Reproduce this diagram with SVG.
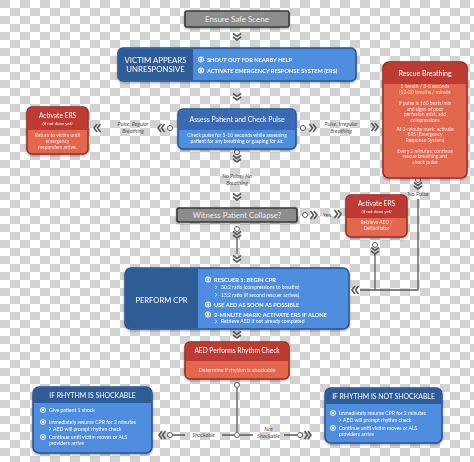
<svg xmlns="http://www.w3.org/2000/svg" width="474" height="462" viewBox="0 0 474 462">
<defs>
<pattern id="chk" width="20" height="16" patternUnits="userSpaceOnUse">
<rect width="20" height="16" fill="#ffffff"/>
<rect width="10" height="8" fill="#d3d3d3"/>
<rect x="10" y="8" width="10" height="8" fill="#d3d3d3"/>
</pattern>
<path id="chev" d="M-4,-3.5 L0,-0.5 L4,-3.5 M-4,0 L0,3 L4,0" fill="none" stroke="#5a5a5a" stroke-width="1.6"/>
<filter id="sh" x="-10%" y="-10%" width="120%" height="130%">
<feDropShadow dx="0" dy="1.2" stdDeviation="1" flood-color="#000" flood-opacity="0.35"/>
</filter>
</defs>
<style>
text{font-family:Lato,"Open Sans","Liberation Sans",sans-serif}
.w{fill:#ffffff}
.g{fill:#eeeeee}
.c{text-anchor:middle}
.b{font-weight:bold}
.lbl{fill:#505050;font-style:italic;font-size:5.4px;text-anchor:middle}
.dot{fill:#ffffff;stroke:#5a5a5a;stroke-width:1}
.ln{stroke:#5a5a5a;stroke-width:1.3;fill:none}
.bf{fill:#4f8ddf}
.bd{fill:#2f5b97}
.bh{fill:#3a6bb4}
.bs{stroke:#2a5290;stroke-width:1.5}
.rh{fill:#bd3a31}
.rb{fill:#e3664f}
.rs{stroke:#9a2a23;stroke-width:1.5}
.rt{fill:#fde2da;font-size:4.9px;text-anchor:middle}
.gy{fill:#8c8c8c;stroke:#383838;stroke-width:1.6}
.sub{fill:none;stroke:#d9e7fb;stroke-width:0.8}
.bt{fill:#ffffff;font-size:5.1px}
.cap{fill:#ffffff;font-weight:bold;font-size:5.7px}
</style>
<rect width="474" height="462" fill="url(#chk)"/>

<g id="connectors">
<use href="#chev" transform="translate(237,37)"/>
<use href="#chev" transform="translate(237,97)"/>
<circle class="dot" cx="237" cy="152" r="2.5"/>
<use href="#chev" transform="translate(237,159)"/>
<text class="lbl" x="237" y="178">No Pulse/ No</text>
<text class="lbl" x="237" y="184.5">Breathing</text>
<use href="#chev" transform="translate(237,197)"/>
<circle class="dot" cx="170" cy="128" r="2.5"/>
<use href="#chev" transform="translate(161,128) rotate(90)"/>
<text class="lbl" x="133" y="126">Pulse, Regular</text>
<text class="lbl" x="133" y="132.5">Breathing</text>
<use href="#chev" transform="translate(97,128) rotate(90)"/>
<circle class="dot" cx="303" cy="128" r="2.5"/>
<use href="#chev" transform="translate(313,128) rotate(-90)"/>
<text class="lbl" x="341" y="126">Pulse, Irregular</text>
<text class="lbl" x="341" y="132.5">Breathing</text>
<use href="#chev" transform="translate(375,127) rotate(-90)"/>
<circle class="dot" cx="418" cy="180" r="2.5"/>
<use href="#chev" transform="translate(418,186)"/>
<text class="lbl" x="418" y="195.5" style="font-style:normal">No Pulse</text>
<path class="ln" d="M418,199 V290 H360 M375,254 V290"/>
<use href="#chev" transform="translate(355,290) rotate(90)"/>
<circle class="dot" cx="305" cy="215" r="2.5"/>
<use href="#chev" transform="translate(314,215) rotate(-90)"/>
<text class="lbl" x="327" y="217" style="font-style:normal">Yes</text>
<use href="#chev" transform="translate(338,214) rotate(-90)"/>
<circle class="dot" cx="375" cy="245" r="2.5"/>
<use href="#chev" transform="translate(375,251)"/>
<circle class="dot" cx="237" cy="229" r="2.5"/>
<use href="#chev" transform="translate(237,235)"/>
<path class="ln" d="M237,239 V254"/>
<use href="#chev" transform="translate(237,259)"/>
<use href="#chev" transform="translate(237,335)"/>
<path class="ln" d="M237,388 V432 M173,435 H185 M222,435 H234 M240,435 H253 M284,435 H297"/>
<circle class="dot" cx="237" cy="385" r="2.5"/>
<circle class="dot" cx="237" cy="435" r="2.5"/>
<circle class="dot" cx="170" cy="435" r="2.5"/>
<use href="#chev" transform="translate(162,435) rotate(90)"/>
<text class="lbl" x="203.5" y="437">Shockable</text>
<text class="lbl" x="268.5" y="431">Not</text>
<text class="lbl" x="268.5" y="438">Shockable</text>
<circle class="dot" cx="300" cy="435" r="2.5"/>
<use href="#chev" transform="translate(308,435) rotate(-90)"/>
</g>

<g id="ensure">
<rect class="gy" x="185" y="11" width="104" height="16" rx="2" filter="url(#sh)"/>
<text class="g c" x="237" y="22" font-size="8">Ensure Safe Scene</text>
</g>

<g id="victim" filter="url(#sh)">
<rect class="bf bs" x="118" y="48" width="238" height="33" rx="5"/>
<path class="bd" d="M123,48.8 H193 V80.2 H123 Q118.8,80.2 118.8,76 V53 Q118.8,48.8 123,48.8 Z"/>
<text class="w c" x="155.5" y="63" font-size="7.8">VICTIM APPEARS</text>
<text class="w c" x="155.5" y="72" font-size="7.8">UNRESPONSIVE</text>
<circle cx="201" cy="59.5" r="3" fill="#fff"/><circle cx="201" cy="59.5" r="2" fill="#4f8ddf"/><circle cx="201" cy="59.5" r="1.3" fill="#fff"/>
<circle cx="201" cy="70.5" r="3" fill="#fff"/><circle cx="201" cy="70.5" r="2" fill="#4f8ddf"/><circle cx="201" cy="70.5" r="1.3" fill="#fff"/>
<text class="cap" x="207" y="61.6">SHOUT OUT FOR NEARBY HELP</text>
<text class="cap" x="207" y="72.6">ACTIVATE EMERGENCY RESPONSE SYSTEM (ERS)</text>
</g>

<g id="assess" filter="url(#sh)">
<rect class="bf bs" x="178" y="109" width="118" height="40" rx="5"/>
<path class="bh" d="M183,109.8 H291 Q295.2,109.8 295.2,114 V130 H178.8 V114 Q178.8,109.8 183,109.8 Z"/>
<text class="w c" x="237" y="122.3" font-size="6.9">Assess Patient and Check Pulse</text>
<text class="w c" x="237" y="136.5" font-size="5">Check pulse for 5-10 seconds while assessing</text>
<text class="w c" x="237" y="142.8" font-size="5">patient for any breathing or gasping for air.</text>
</g>

<g id="ers-left" filter="url(#sh)">
<rect class="rb rs" x="27" y="107" width="61" height="47" rx="5"/>
<path class="rh" d="M32,107.8 H83 Q87.2,107.8 87.2,112 V130 H27.8 V112 Q27.8,107.8 32,107.8 Z"/>
<text class="w c" x="57.5" y="117.5" font-size="6.6">Activate ERS</text>
<text class="w c" x="57.5" y="124.5" font-size="4.6" font-style="italic">(if not done yet)</text>
<text class="rt" x="57.5" y="137">Return to victim until</text>
<text class="rt" x="57.5" y="143">emergency</text>
<text class="rt" x="57.5" y="149">responders arrive.</text>
</g>

<g id="rescue" filter="url(#sh)">
<rect class="rb rs" x="383" y="62" width="84" height="116" rx="6"/>
<path class="rh" d="M389,62.8 H461 Q466.2,62.8 466.2,68 V84 H383.8 V68 Q383.8,62.8 389,62.8 Z"/>
<text class="w c" x="425" y="75.8" font-size="7">Rescue Breathing</text>
<text class="rt" x="425" y="88">1 breath / 3-5 seconds</text>
<text class="rt" x="425" y="93.5">(12-20 breaths / minute</text>
<text class="rt" x="425" y="105">If pulse is ≤60 beats/min</text>
<text class="rt" x="425" y="110.5">and signs of poor</text>
<text class="rt" x="425" y="116">perfusion exist, add</text>
<text class="rt" x="425" y="121.5">compressions</text>
<text class="rt" x="425" y="130.5">At 2-minute mark: activate</text>
<text class="rt" x="425" y="136">ERS (Emergency</text>
<text class="rt" x="425" y="141.5">Response System)</text>
<text class="rt" x="425" y="152.5">Every 2 minutes: continue</text>
<text class="rt" x="425" y="158">rescue breathing and</text>
<text class="rt" x="425" y="163.5">check pulse</text>
</g>

<g id="witness">
<rect class="gy" x="177" y="208" width="120" height="14" rx="2" filter="url(#sh)"/>
<text class="g c" x="237" y="218" font-size="7.8">Witness Patient Collapse?</text>
</g>

<g id="ers-right" filter="url(#sh)">
<rect class="rb rs" x="346" y="195" width="61" height="42" rx="5"/>
<path class="rh" d="M351,195.8 H402 Q406.2,195.8 406.2,200 V218 H346.8 V200 Q346.8,195.8 351,195.8 Z"/>
<text class="w c" x="376.5" y="206" font-size="6.6">Activate ERS</text>
<text class="w c" x="376.5" y="213" font-size="4.6" font-style="italic">(if not done yet)</text>
<text class="rt" x="376.5" y="224">Retrieve AED /</text>
<text class="rt" x="376.5" y="229.5">Defibrillator</text>
</g>

<g id="cpr" filter="url(#sh)">
<rect class="bf bs" x="125" y="268" width="224" height="61" rx="6"/>
<path class="bd" d="M131,268.8 H198 V328.2 H131 Q125.8,328.2 125.8,323 V274 Q125.8,268.8 131,268.8 Z"/>
<text class="w c" x="161.5" y="303" font-size="7.6">PERFORM CPR</text>
<circle cx="208" cy="279.5" r="3" fill="#fff"/><circle cx="208" cy="279.5" r="2" fill="#4f8ddf"/><circle cx="208" cy="279.5" r="1.3" fill="#fff"/>
<circle cx="208" cy="304.5" r="3" fill="#fff"/><circle cx="208" cy="304.5" r="2" fill="#4f8ddf"/><circle cx="208" cy="304.5" r="1.3" fill="#fff"/>
<circle cx="208" cy="314.5" r="3" fill="#fff"/><circle cx="208" cy="314.5" r="2" fill="#4f8ddf"/><circle cx="208" cy="314.5" r="1.3" fill="#fff"/>
<text class="cap" x="214" y="281.6">RESCUER 1: BEGIN CPR</text>
<path class="sub" d="M215,285.5 L217,287.3 L215,289.1 M215,293 L217,294.8 L215,296.6 M215,319.5 L217,321.3 L215,323.1"/>
<text class="w" x="221" y="289.2" font-size="5">30:2 ratio (compressions to breaths)</text>
<text class="w" x="221" y="296.7" font-size="5">15:2 ratio (if second rescuer arrives)</text>
<text class="cap" x="214" y="306.6">USE AED AS SOON AS POSSIBLE</text>
<text class="cap" x="214" y="316.6">2-MINUTE MARK: ACTIVATE ERS IF ALONE</text>
<text class="w" x="221" y="323.2" font-size="5">Retrieve AED if not already completed</text>
</g>

<g id="aed" filter="url(#sh)">
<rect class="rb rs" x="185" y="342" width="104" height="37" rx="5"/>
<path class="rh" d="M190,342.8 H284 Q288.2,342.8 288.2,347 V361 H185.8 V347 Q185.8,342.8 190,342.8 Z"/>
<text class="w c" x="237" y="353" font-size="6.6">AED Performs Rhythm Check</text>
<text class="rt" x="237" y="371.5" style="font-size:5.3px">Determine if rhythm is shockable</text>
</g>

<g id="shockable" filter="url(#sh)">
<rect class="bf bs" x="33" y="387" width="119" height="66" rx="6"/>
<path class="bd" d="M39,387.8 H146 Q151.2,387.8 151.2,393 V403 H33.8 V393 Q33.8,387.8 39,387.8 Z"/>
<text class="w c" x="92.5" y="398.3" font-size="6.9">IF RHYTHM IS SHOCKABLE</text>
<circle cx="43" cy="410" r="2.8" fill="#fff"/><circle cx="43" cy="410" r="1.9" fill="#4f8ddf"/><circle cx="43" cy="410" r="1.2" fill="#fff"/>
<circle cx="43" cy="422" r="2.8" fill="#fff"/><circle cx="43" cy="422" r="1.9" fill="#4f8ddf"/><circle cx="43" cy="422" r="1.2" fill="#fff"/>
<circle cx="43" cy="437" r="2.8" fill="#fff"/><circle cx="43" cy="437" r="1.9" fill="#4f8ddf"/><circle cx="43" cy="437" r="1.2" fill="#fff"/>
<text class="bt" x="49" y="411.8">Give patient 1 shock</text>
<text class="bt" x="49" y="423.8">Immediately resume CPR for 2 minutes</text>
<path class="sub" d="M49,427 L51,428.7 L49,430.4"/>
<text class="bt" x="53" y="430.5">AED will prompt rhythm check</text>
<text class="bt" x="49" y="438.8">Continue until victim moves or ALS</text>
<text class="bt" x="49" y="444.5">providers arrive</text>
</g>

<g id="not-shockable" filter="url(#sh)">
<rect class="bf bs" x="325" y="388" width="117" height="55" rx="6"/>
<path class="bd" d="M331,388.8 H436 Q441.2,388.8 441.2,394 V404 H325.8 V394 Q325.8,388.8 331,388.8 Z"/>
<text class="w c" x="383.5" y="399.3" font-size="6.9">IF RHYTHM IS NOT SHOCKABLE</text>
<circle cx="333" cy="413" r="2.8" fill="#fff"/><circle cx="333" cy="413" r="1.9" fill="#4f8ddf"/><circle cx="333" cy="413" r="1.2" fill="#fff"/>
<circle cx="333" cy="428" r="2.8" fill="#fff"/><circle cx="333" cy="428" r="1.9" fill="#4f8ddf"/><circle cx="333" cy="428" r="1.2" fill="#fff"/>
<text class="bt" x="339" y="414.8">Immediately resume CPR for 2 minutes</text>
<path class="sub" d="M339,418.5 L341,420.2 L339,421.9"/>
<text class="bt" x="343" y="421.8">AED will prompt rhythm check</text>
<text class="bt" x="339" y="429.8">Continue until victim moves or ALS</text>
<text class="bt" x="339" y="435.5">providers arrive</text>
</g>
</svg>
